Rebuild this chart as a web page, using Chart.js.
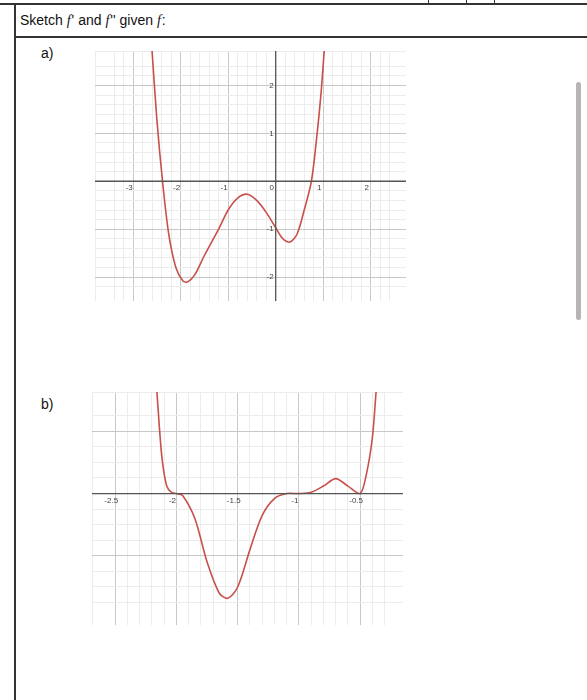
<!DOCTYPE html>
<html><head><meta charset="utf-8">
<script src="https://cdn.jsdelivr.net/npm/chart.js@4"></script>
<style>
body{margin:0;width:587px;height:700px;background:#fff;position:relative;overflow:hidden;font-family:"Liberation Sans",Arial,sans-serif;}
.abs{position:absolute}
i{font-family:'Liberation Serif',serif;padding-right:1px}
</style></head><body>
<div class="abs" style="left:0;top:3px;width:587px;height:1.5px;background:#333"></div>
<div class="abs" style="left:428px;top:0;width:1px;height:4px;background:#333"></div>
<div class="abs" style="left:466px;top:0;width:1px;height:4px;background:#333"></div>
<div class="abs" style="left:494px;top:0;width:1px;height:4px;background:#333"></div>
<div class="abs" style="left:14px;top:3px;width:1.5px;height:697px;background:#333"></div>
<div class="abs" style="left:15px;top:36px;width:572px;height:1.5px;background:#333"></div>
<div class="abs" style="left:20px;top:12px;font-size:14px;color:#111">Sketch <i>f</i>' and <i>f</i>'' given <i>f</i>:</div>
<div class="abs" style="left:41px;top:45px;font-size:14px;color:#111">a)</div>
<div class="abs" style="left:41px;top:396px;font-size:14px;color:#111">b)</div>
<div class="abs" style="left:576px;top:82px;width:5px;height:238px;border-radius:3px;background:#b5b5b5"></div>
<div class="abs" style="left:95px;top:51px;width:311px;height:250px"><canvas id="ca"></canvas></div>
<div class="abs" style="left:92px;top:392px;width:311px;height:233px"><canvas id="cb"></canvas></div>
<script>
const curveA_x=[-2.6,-2.5,-2.38,-2.25,-2.1,-1.95,-1.85,-1.7,-1.5,-1.2,-1.0,-0.8,-0.6,-0.4,-0.2,0,0.15,0.3,0.45,0.6,0.75,0.85,0.95,1.02];
const curveA_y=[2.72,1.3,0,-1.1,-1.8,-2.08,-2.1,-1.95,-1.55,-1.0,-0.6,-0.35,-0.27,-0.4,-0.65,-0.97,-1.2,-1.27,-1.1,-0.6,0,0.8,1.8,2.72];
const tickA_x=[-3,-2,-1,0,1,2];
const tickA_y=[-2,-1,1,2];
const curveB_x=[-2.16,-2.12,-2.08,-2.04,-2,-1.95,-1.85,-1.75,-1.65,-1.58,-1.5,-1.4,-1.3,-1.2,-1.1,-1,-0.9,-0.8,-0.7,-0.6,-0.5,-0.45,-0.4,-0.37];
const curveB_y=[1.63,0.6,0.12,0.02,0,-0.03,-0.4,-1.1,-1.6,-1.68,-1.5,-0.9,-0.35,-0.08,0,0,0.02,0.12,0.24,0.12,0,0.3,0.9,1.63];
const tickB_x=[-2.5,-2,-1.5,-1,-0.5];

const isMaj=(v,u)=>Math.abs(v/u-Math.round(v/u))<1e-6;
function mkScale(min,max,step,major){
  return {type:'linear',min,max,ticks:{display:false,stepSize:step},border:{display:false},
    grid:{drawTicks:false,lineWidth:1,color:c=>isMaj(c.tick.value,major)?'#c8c8c8':'#ececec'}};
}
function axisPlugin(tx,ty,fmt){return{id:'ax',afterDraw(ch){
  const g=ch.ctx,xs=ch.scales.x,ys=ch.scales.y,a=ch.chartArea;
  const x0=xs.getPixelForValue(0),y0=ys.getPixelForValue(0);
  g.save();g.strokeStyle='#555';g.lineWidth=1.3;g.beginPath();
  g.moveTo(a.left,y0);g.lineTo(a.right,y0);
  if(x0>=a.left&&x0<=a.right){g.moveTo(x0,a.top);g.lineTo(x0,a.bottom);}
  g.stroke();
  g.fillStyle='#444';g.font='8px "Liberation Sans",Arial';g.textAlign='center';g.textBaseline='top';
  tx.forEach(v=>g.fillText(fmt(v),xs.getPixelForValue(v)-4,y0+3));
  g.textAlign='right';g.textBaseline='middle';
  ty.forEach(v=>g.fillText(String(v),x0-2,ys.getPixelForValue(v)));
  g.restore();}}}
function mk(id,xs,ys,sx,sy,plug){
  return new Chart(document.getElementById(id),{type:'scatter',
    data:{datasets:[{data:xs.map((x,i)=>({x,y:ys[i]})),showLine:true,pointRadius:0,borderColor:'#c8504a',borderWidth:1.6,tension:0.3}]},
    options:{responsive:true,maintainAspectRatio:false,animation:false,layout:{padding:0},
      plugins:{legend:{display:false},tooltip:{enabled:false}},scales:{x:sx,y:sy}},plugins:[plug]});
}
mk('ca',curveA_x,curveA_y,mkScale(-3.8,2.74,0.2,1),mkScale(-2.5,2.72,0.2,1),axisPlugin(tickA_x,tickA_y,v=>String(v)));
mk('cb',curveB_x,curveB_y,mkScale(-2.69,-0.15,0.1,0.5),mkScale(-2.11,1.63,0.25,1),axisPlugin(tickB_x,[],v=>String(v)));
</script></body></html>
